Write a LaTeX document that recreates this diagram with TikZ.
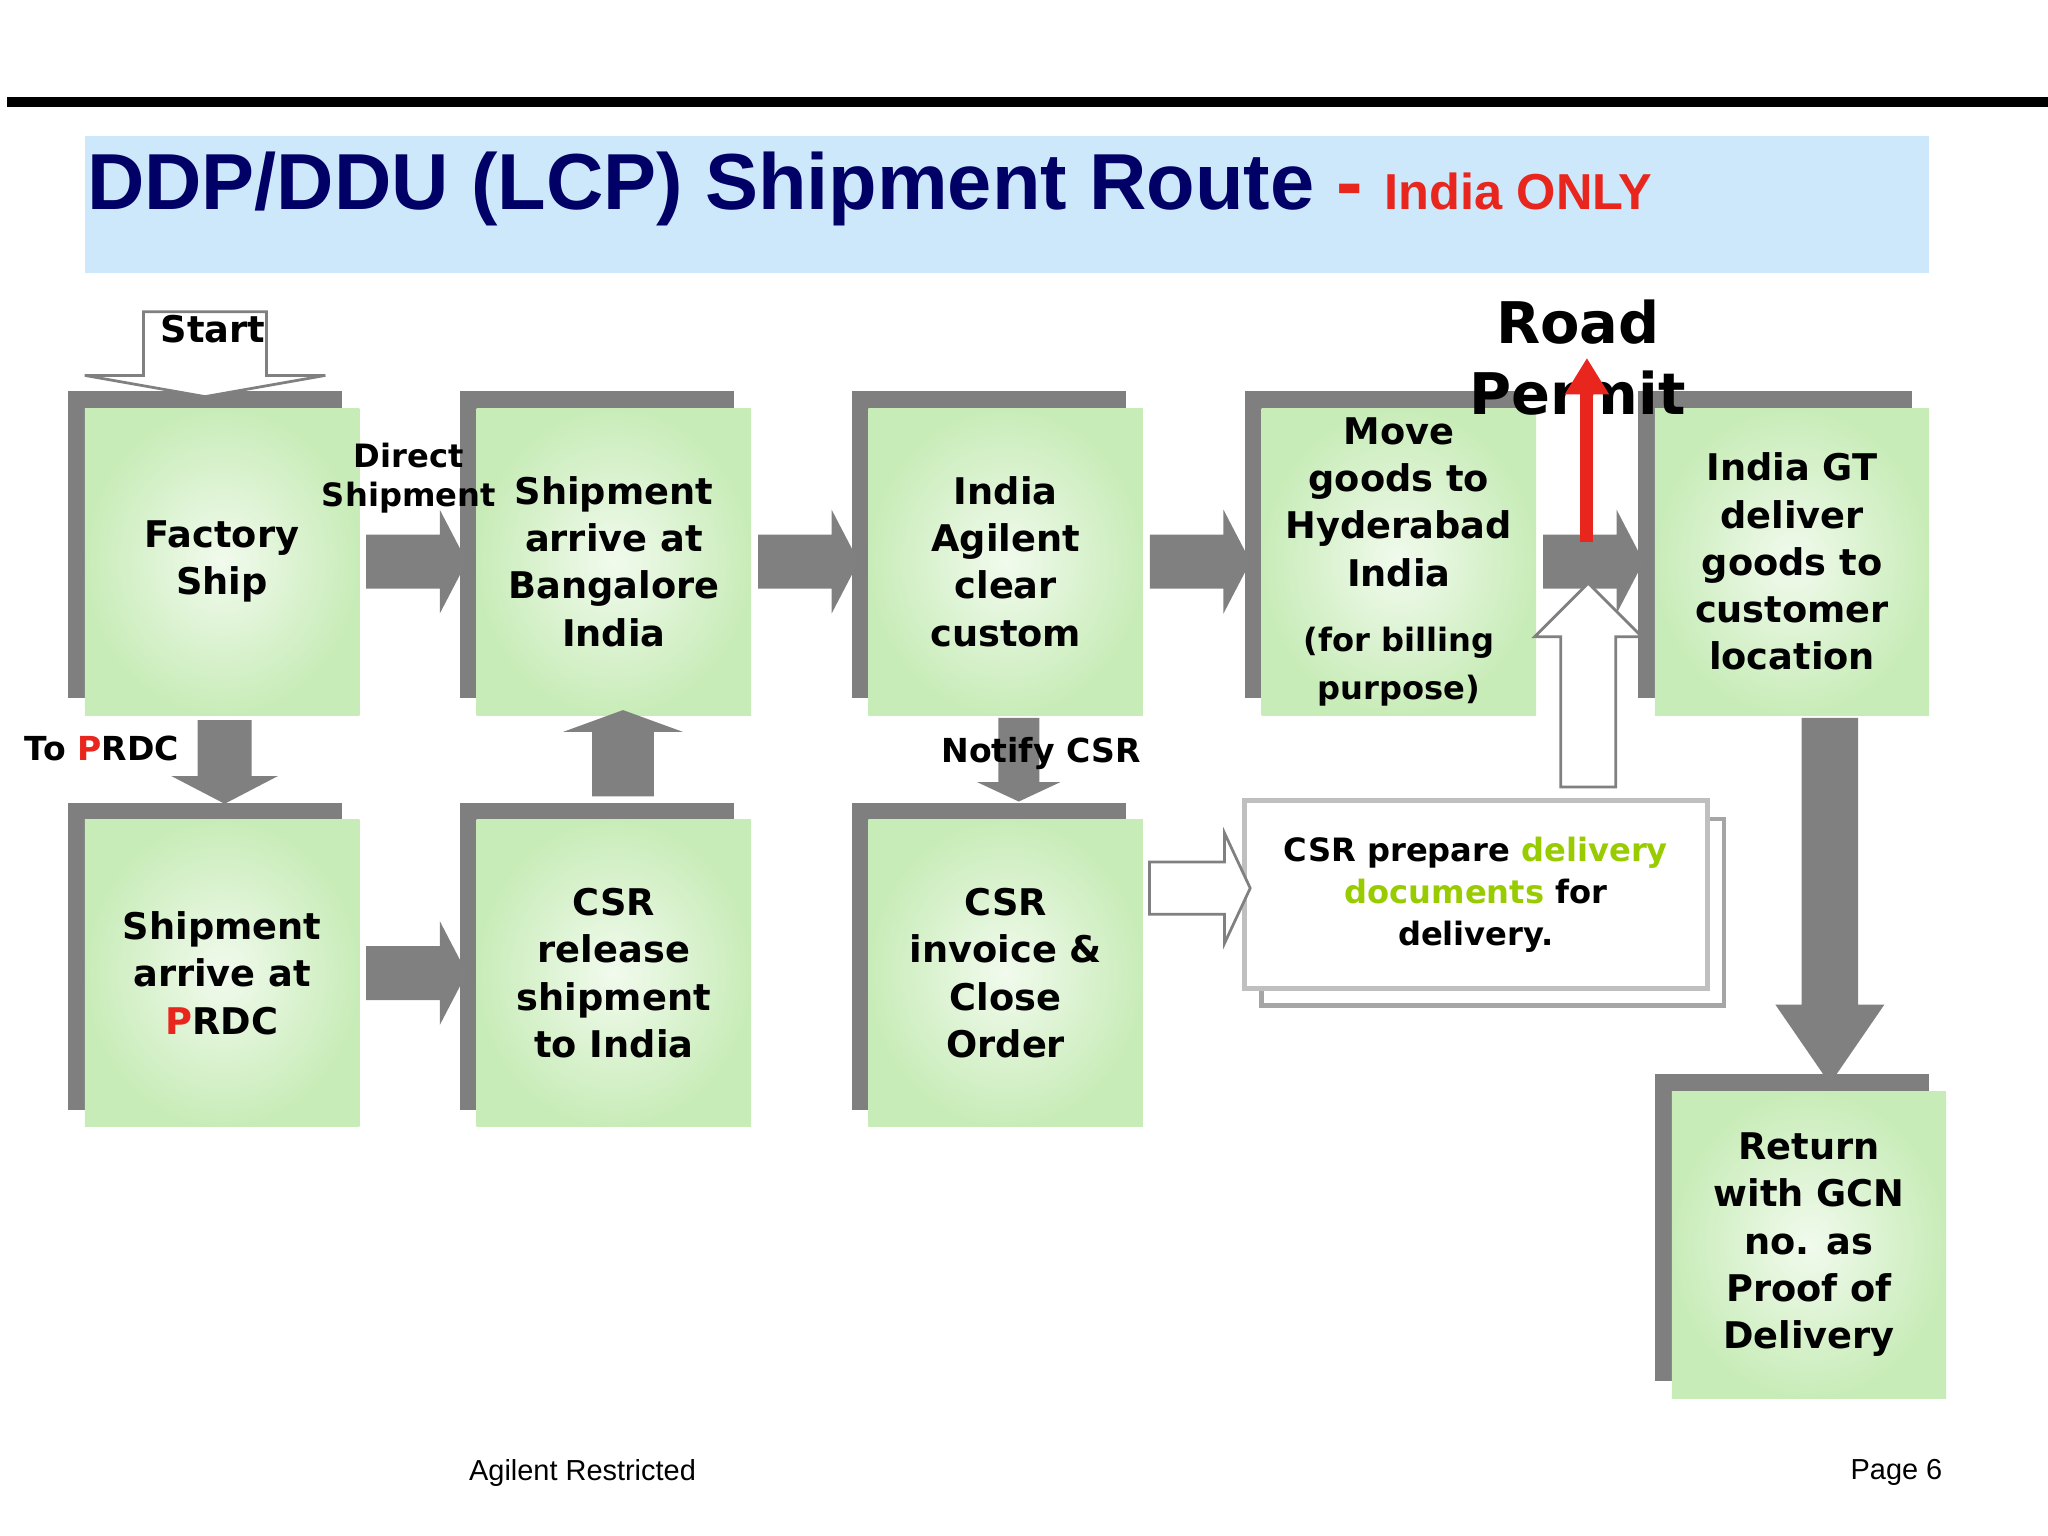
\documentclass[tikz,border=0pt]{standalone}
\usepackage{fontspec}
\setmainfont{DejaVu Sans}
\newfontfamily\arialf{Liberation Sans}
\usetikzlibrary{shapes.arrows,shadows,arrows.meta}
\definecolor{navy}{HTML}{000066}
\definecolor{banner}{HTML}{CCE8FA}
\definecolor{boxgreen}{HTML}{C8ECB8}
\definecolor{shadowgray}{HTML}{7F7F7F}
\definecolor{agray}{HTML}{808080}
\definecolor{ygreen}{HTML}{99CC00}
\definecolor{pred}{HTML}{E8261E}
\begin{document}
\begin{tikzpicture}[x=0.01cm,y=-0.01cm,
  box/.style={minimum width=2.1cm, minimum height=2.35cm, inner sep=0pt,
    inner color=white!75!boxgreen, outer color=boxgreen,
    align=center, font=\bfseries\fontsize{8}{10.3}\selectfont,
    general shadow={shadow xshift=-0.13cm, shadow yshift=0.13cm, fill=shadowgray}},
  garrow/.style={single arrow, fill=agray, draw=none, inner sep=0pt,
    minimum height=#1},
  warrow/.style={single arrow, fill=white, draw=agray, line width=0.6pt,
    inner sep=0pt, minimum height=#1},
  lbl/.style={font=\bfseries\fontsize{7}{8.5}\selectfont, align=center, inner sep=0pt}]
\useasboundingbox (0,0) rectangle (1568,1176);
% header
\fill (5,74) rectangle (1568,82);
\fill[banner] (65,104) rectangle (1477,209);
\node[anchor=west, inner sep=0pt, text=navy, font=\arialf\bfseries\fontsize{17.3}{20}\selectfont]
  (title) at (66,145) {DDP/DDU (LCP) Shipment Route \textcolor{pred}{-\ {\fontsize{11}{13}\selectfont India ONLY}}};
% boxes
\node[box] (fs) at (170,430) {Factory\\Ship};
\node[box] (sb) at (470,430) {Shipment\\arrive at\\Bangalore\\India};
\node[box] (ia) at (770,430) {India\\Agilent\\clear\\custom};
\node[box] (mg) at (1071,430) {Move\\goods to\\Hyderabad\\India\\[4pt]{\fontsize{7}{9}\selectfont (for billing}\\{\fontsize{7}{9}\selectfont purpose)}};
\node[box] (gt) at (1372,430) {India GT\\deliver\\goods to\\customer\\location};
\node[box] (sp) at (170,745) {Shipment\\arrive at\\\textcolor{pred}{P}RDC};
\node[box] (cr) at (470,745) {CSR\\release\\shipment\\to India};
\node[box] (ci) at (770,745) {CSR\\invoice \&\\Close\\Order};
\node[box] (rg) at (1385,953) {Return\\with GCN\\no. as\\Proof of\\Delivery};
% CSR prepare box
\draw[shadowgray!70, line width=1pt] (966,627) rectangle (1320,770);
\node[draw=shadowgray!50, line width=1pt, fill=white, minimum width=3.54cm, minimum height=1.44cm,
  align=center, font=\bfseries\fontsize{7}{9.2}\selectfont] (cp) at (1130,685)
  {CSR prepare \textcolor{ygreen}{delivery}\\\textcolor{ygreen}{documents} for\\delivery.};
% gray block arrows
\foreach \n/\x/\y in {a1/313.5/430, a2/613.5/430, a3/913.5/430, a4/1214.5/430, a5/313.5/745}
  \node[garrow=0.77cm, minimum width=0.78cm, single arrow head extend=0.19cm,
    single arrow tip angle=125, text height=0.4cm, text depth=0pt] (\n) at (\x,\y) {};
\node[garrow=0.64cm, minimum width=0.8cm, single arrow head extend=0.2cm,
  single arrow tip angle=125, text height=0.4cm, rotate=-90] (a6) at (172,578) {};
\node[garrow=0.66cm, minimum width=0.9cm, single arrow head extend=0.22cm,
  single arrow tip angle=140, text height=0.46cm, rotate=90] (a7) at (477,581) {};
\node[garrow=0.64cm, minimum width=0.62cm, single arrow head extend=0.16cm,
  single arrow tip angle=130, text height=0.3cm, rotate=-90] (a8) at (780,578) {};
\node[garrow=2.8cm, minimum width=0.82cm, single arrow head extend=0.2cm,
  single arrow tip angle=69, text height=0.42cm, rotate=-90] (a9) at (1401,674) {};
% white outlined arrows
\node[warrow=0.77cm, minimum width=0.83cm, single arrow head extend=0.22cm,
  single arrow tip angle=130, text height=0.38cm] (w1) at (914,680) {};
\node[warrow=1.56cm, minimum width=0.8cm, single arrow head extend=0.2cm,
  single arrow tip angle=90, text height=0.4cm, rotate=90] (w2) at (1216,535) {};
\node[warrow=0.65cm, minimum width=1.82cm, single arrow head extend=0.45cm,
  single arrow tip angle=160, text height=0.92cm, rotate=-90] (w3) at (157,267) {};
\node[lbl, font=\bfseries\fontsize{8}{10}\selectfont] (st) at (163,252) {Start};
% red road permit arrow
\coordinate (rp0) at (1215,415);
\coordinate (rp1) at (1215,274);
\node[lbl, font=\bfseries\fontsize{12.5}{15.5}\selectfont] (rp) at (1208,274) {Road\\Permit};
\draw[pred, line width=0.1cm, -{Triangle[length=0.28cm,width=0.32cm]}] (rp0) -- (rp1);
% labels
\node[lbl] (ds) at (313,366) {Direct\\Shipment};
\node[lbl, font=\bfseries\fontsize{7.2}{9}\selectfont] (tp) at (78,573) {To \textcolor{pred}{P}RDC};
\node[lbl, font=\bfseries\fontsize{7.2}{9}\selectfont] (nc) at (797,577) {Notify CSR};
% footer
\node[font=\arialf\fontsize{6.3}{7.5}\selectfont, inner sep=0pt] (ar) at (446,1128) {Agilent Restricted};
\node[font=\arialf\fontsize{6.3}{7.5}\selectfont, inner sep=0pt] (pg) at (1452,1127) {Page 6};
\end{tikzpicture}
\end{document}
